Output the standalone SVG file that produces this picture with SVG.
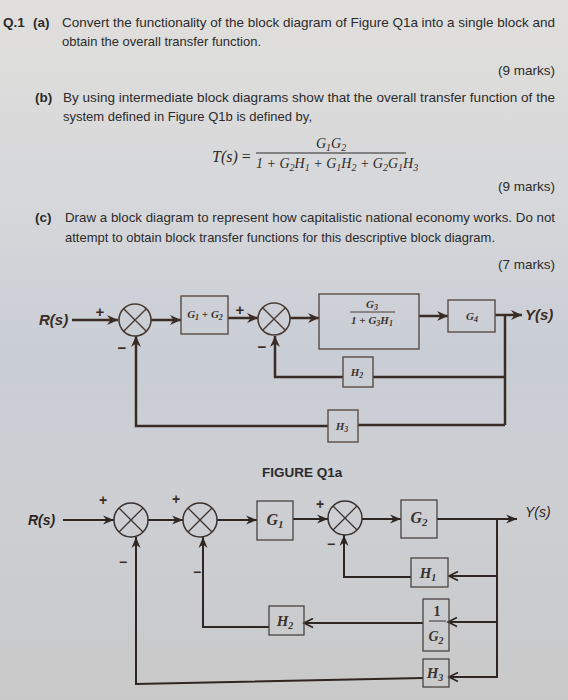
<svg xmlns="http://www.w3.org/2000/svg" width="568" height="700" viewBox="0 0 568 700">
<defs>
<linearGradient id="bg" x1="0" y1="0" x2="0" y2="1">
<stop offset="0" stop-color="#e0dfdc"/>
<stop offset="0.3" stop-color="#d6d7da"/>
<stop offset="0.5" stop-color="#c9cdd5"/>
<stop offset="0.7" stop-color="#cdcfd3"/>
<stop offset="1" stop-color="#c9c9c9"/>
</linearGradient>
<marker id="ah" markerUnits="userSpaceOnUse" markerWidth="12" markerHeight="10" refX="11" refY="5" orient="auto"><path d="M0,0 L11,5 L0,10 L3.5,5 z" fill="#3a2c24"/></marker>
<marker id="ah2" markerUnits="userSpaceOnUse" markerWidth="12" markerHeight="10" refX="11" refY="5" orient="auto"><path d="M0,0.5 L11,5 L0,9.5 L3.5,5 z" fill="#2e2622"/></marker>
<marker id="ahs" markerUnits="userSpaceOnUse" markerWidth="12" markerHeight="11" refX="10" refY="5.5" orient="auto"><path d="M1,1 L10,5.5 L1,10" fill="none" stroke="#2e2622" stroke-width="1.7"/></marker>
<g id="sumA"><circle r="16" fill="none" stroke="#4a3c34" stroke-width="1.6"/><path d="M-11.3,-11.3 L11.3,11.3 M11.3,-11.3 L-11.3,11.3" stroke="#4a3c34" stroke-width="1.4"/></g>
<g id="sumB"><circle r="17" fill="none" stroke="#3a322e" stroke-width="1.5"/><path d="M-12,-12 L12,12 M12,-12 L-12,12" stroke="#3a322e" stroke-width="1.3"/></g>
<style>
.t{font-family:"Liberation Sans",Arial,sans-serif;font-size:13.5px;fill:#2b2b2b}
.b{font-weight:bold}
.m{font-family:"Liberation Serif","DejaVu Serif",serif;font-style:italic;fill:#2b2b2b}
.mb{font-family:"Liberation Serif","DejaVu Serif",serif;font-style:italic;font-weight:bold;fill:#3a3430}
.up{font-style:normal}
.io{font-family:"Liberation Sans",Arial,sans-serif;font-style:italic;font-weight:bold;fill:#3a2c24}
.io2{font-family:"Liberation Sans",Arial,sans-serif;font-style:italic;fill:#2e2622}
.sg{font-family:"Liberation Sans",Arial,sans-serif;font-weight:bold;fill:#3a2c24}
.la{fill:none;stroke:#3a2c24;stroke-width:2.5}
.lb{fill:none;stroke:#2e2622;stroke-width:2}
.box{fill:none;stroke:#5a4c44;stroke-width:1.4}
.boxb{fill:none;stroke:#4a4440;stroke-width:1.3}
</style>
</defs>
<rect width="568" height="700" fill="url(#bg)"/>

<g id="question-text">
<text class="t b" x="3" y="27">Q.1</text>
<text class="t b" x="33" y="27">(a)</text>
<text class="t" x="62" y="27" textLength="493" lengthAdjust="spacingAndGlyphs">Convert the functionality of the block diagram of Figure Q1a into a single block and</text>
<text class="t" x="62" y="46" textLength="199" lengthAdjust="spacingAndGlyphs">obtain the overall transfer function.</text>
<text class="t" x="555" y="75" text-anchor="end">(9 marks)</text>
<text class="t b" x="35" y="102">(b)</text>
<text class="t" x="63" y="102" textLength="492" lengthAdjust="spacingAndGlyphs">By using intermediate block diagrams show that the overall transfer function of the</text>
<text class="t" x="63" y="121" textLength="249" lengthAdjust="spacingAndGlyphs">system defined in Figure Q1b is defined by,</text>
<text class="m" x="212" y="162" font-size="16">T(s) <tspan class="up">=</tspan></text>
<text class="m" x="331" y="148" font-size="14" text-anchor="middle">G<tspan font-size="10" dy="3">1</tspan><tspan dy="-3">G</tspan><tspan font-size="10" dy="3">2</tspan></text>
<line x1="256" y1="153" x2="406" y2="153" stroke="#2b2b2b" stroke-width="1.2"/>
<text class="m" x="256" y="168" font-size="14">1 + G<tspan font-size="10" dy="3">2</tspan><tspan dy="-3">H</tspan><tspan font-size="10" dy="3">1</tspan><tspan dy="-3"> + G</tspan><tspan font-size="10" dy="3">1</tspan><tspan dy="-3">H</tspan><tspan font-size="10" dy="3">2</tspan><tspan dy="-3"> + G</tspan><tspan font-size="10" dy="3">2</tspan><tspan dy="-3">G</tspan><tspan font-size="10" dy="3">1</tspan><tspan dy="-3">H</tspan><tspan font-size="10" dy="3">3</tspan></text>
<text class="t" x="555" y="191" text-anchor="end">(9 marks)</text>
<text class="t b" x="35" y="222">(c)</text>
<text class="t" x="65" y="222" textLength="490" lengthAdjust="spacingAndGlyphs">Draw a block diagram to represent how capitalistic national economy works. Do not</text>
<text class="t" x="65" y="242" textLength="430" lengthAdjust="spacingAndGlyphs">attempt to obtain block transfer functions for this descriptive block diagram.</text>
<text class="t" x="555" y="269" text-anchor="end">(7 marks)</text>
</g>

<!-- FIGURE Q1a -->
<g id="q1a-connectors">
<path class="la" d="M72,320 L118,320" marker-end="url(#ah)"/>
<path class="la" d="M151,320 L181,320" marker-end="url(#ah)"/>
<path class="la" d="M228,318 L258,318" marker-end="url(#ah)"/>
<path class="la" d="M290,318 L319,318" marker-end="url(#ah)"/>
<path class="la" d="M419,316 L448,316" marker-end="url(#ah)"/>
<path class="la" d="M495,315 L522,315" marker-end="url(#ah)"/>
<path class="la" d="M505,315 L505,425"/>
<path class="la" d="M505,377 L373,377"/>
<path class="la" d="M343,377 L275,377 L275,336" marker-end="url(#ah)"/>
<path class="la" d="M505,425 L358,425"/>
<path class="la" d="M328,426 L136,426 L136,336" marker-end="url(#ah)"/>
</g>
<g id="q1a-R"><text class="io" x="39" y="325" font-size="15">R(s)</text></g>
<g id="q1a-sum1"><use href="#sumA" x="135" y="320"/>
<text class="sg" x="100" y="317" font-size="15" text-anchor="middle">+</text>
<text class="sg" x="122" y="353" font-size="15" text-anchor="middle">−</text></g>
<g id="q1a-G1G2"><rect class="box" x="181" y="296" width="47" height="38"/>
<text class="mb" x="205" y="318" font-size="11" text-anchor="middle">G<tspan font-size="8" dy="2">1</tspan><tspan dy="-2"> + G</tspan><tspan font-size="8" dy="2">2</tspan></text></g>
<g id="q1a-sum2"><use href="#sumA" x="274" y="319"/>
<text class="sg" x="240" y="315" font-size="15" text-anchor="middle">+</text>
<text class="sg" x="262" y="352" font-size="15" text-anchor="middle">−</text></g>
<g id="q1a-G3"><rect class="box" x="319" y="294" width="100" height="55"/>
<text class="mb" x="372" y="308" font-size="11" text-anchor="middle">G<tspan font-size="8" dy="2">3</tspan></text>
<line x1="350" y1="312" x2="395" y2="312" stroke="#4a3c34" stroke-width="1"/>
<text class="mb" x="372" y="324" font-size="11" text-anchor="middle">1 + G<tspan font-size="8" dy="2">3</tspan><tspan dy="-2">H</tspan><tspan font-size="8" dy="2">1</tspan></text></g>
<g id="q1a-G4"><rect class="box" x="448" y="300" width="47" height="32"/>
<text class="mb" x="472" y="320" font-size="11" text-anchor="middle">G<tspan font-size="8" dy="2">4</tspan></text></g>
<g id="q1a-Y"><text class="io" x="525" y="320" font-size="15">Y(s)</text></g>
<g id="q1a-H2"><rect class="box" x="343" y="357" width="30" height="30"/>
<text class="mb" x="357" y="376" font-size="11" text-anchor="middle">H<tspan font-size="8" dy="2">2</tspan></text></g>
<g id="q1a-H3"><rect class="box" x="328" y="410" width="30" height="32"/>
<text class="mb" x="342" y="430" font-size="11" text-anchor="middle">H<tspan font-size="8" dy="2">3</tspan></text></g>

<g id="caption"><text class="t b" x="262" y="477" font-size="12.5">FIGURE Q1a</text></g>

<!-- Figure Q1b -->
<g id="q1b-connectors">
<path class="lb" d="M63,520 L114,520" marker-end="url(#ah2)"/>
<path class="lb" d="M148,520 L183,520" marker-end="url(#ah2)"/>
<path class="lb" d="M217,520 L257,520" marker-end="url(#ah2)"/>
<path class="lb" d="M293,519 L328,519" marker-end="url(#ah2)"/>
<path class="lb" d="M362,519 L401,519" marker-end="url(#ah2)"/>
<path class="lb" d="M437,519 L517,519" marker-end="url(#ah2)"/>
<path class="lb" d="M497,519 L497,678"/>
<path class="lb" d="M497,576 L449,576" marker-end="url(#ahs)"/>
<path class="lb" d="M411,577 L344,577 L344,535" marker-end="url(#ah2)"/>
<path class="lb" d="M497,622 L448,622" marker-end="url(#ahs)"/>
<path class="lb" d="M423,623 L304,623" marker-end="url(#ahs)"/>
<path class="lb" d="M269,627 L203,627 L203,537" marker-end="url(#ah2)"/>
<path class="lb" d="M497,677 L449,677" marker-end="url(#ahs)"/>
<path class="lb" d="M423,678 L136,684 L136,537" marker-end="url(#ah2)"/>
</g>
<g id="q1b-R"><text class="io2" x="28" y="525" font-size="14" font-weight="bold">R(s)</text></g>
<g id="q1b-sum1"><use href="#sumB" x="131" y="520"/>
<text class="sg" x="103" y="505" font-size="14" text-anchor="middle">+</text>
<text class="sg" x="123" y="567" font-size="14" text-anchor="middle">−</text></g>
<g id="q1b-sum2"><use href="#sumB" x="200" y="520"/>
<text class="sg" x="176" y="504" font-size="14" text-anchor="middle">+</text>
<text class="sg" x="197" y="577" font-size="14" text-anchor="middle">−</text></g>
<g id="q1b-G1"><rect class="boxb" x="257" y="501" width="36" height="39"/>
<text class="mb" x="275" y="525" font-size="16" text-anchor="middle">G<tspan font-size="11" dy="3">1</tspan></text></g>
<g id="q1b-sum3"><use href="#sumB" x="345" y="518"/>
<text class="sg" x="320" y="509" font-size="14" text-anchor="middle">+</text>
<text class="sg" x="331" y="549" font-size="14" text-anchor="middle">−</text></g>
<g id="q1b-G2"><rect class="boxb" x="401" y="500" width="36" height="38"/>
<text class="mb" x="419" y="523" font-size="16" text-anchor="middle">G<tspan font-size="11" dy="3">2</tspan></text></g>
<g id="q1b-Y"><text class="io2" x="525" y="517" font-size="14">Y(s)</text></g>
<g id="q1b-H1"><rect class="boxb" x="411" y="558" width="37" height="29"/>
<text class="mb" x="428" y="578" font-size="15" text-anchor="middle">H<tspan font-size="10" dy="3">1</tspan></text></g>
<g id="q1b-invG2"><rect class="boxb" x="423" y="599" width="26" height="52"/>
<text class="mb up" x="437" y="616" font-size="14" text-anchor="middle">1</text>
<line x1="429" y1="621" x2="446" y2="621" stroke="#3a3430" stroke-width="1"/>
<text class="mb" x="436" y="641" font-size="14" text-anchor="middle">G<tspan font-size="10" dy="3">2</tspan></text></g>
<g id="q1b-H2"><rect class="boxb" x="269" y="606" width="35" height="29"/>
<text class="mb" x="285" y="626" font-size="15" text-anchor="middle">H<tspan font-size="10" dy="3">2</tspan></text></g>
<g id="q1b-H3"><rect class="boxb" x="423" y="659" width="26" height="28"/>
<text class="mb" x="435" y="678" font-size="15" text-anchor="middle">H<tspan font-size="10" dy="3">3</tspan></text></g>
</svg>
